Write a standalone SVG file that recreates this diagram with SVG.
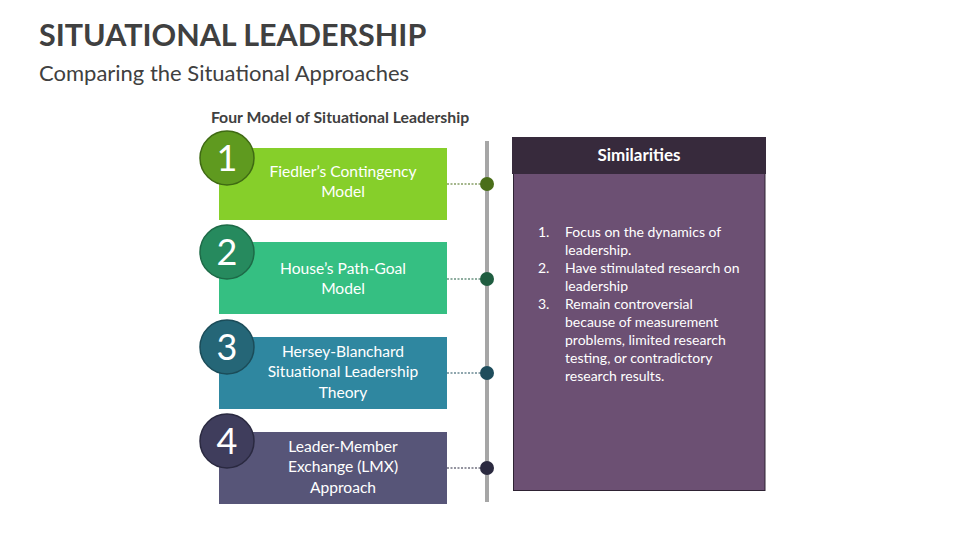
<svg xmlns="http://www.w3.org/2000/svg" width="960" height="540" viewBox="0 0 960 540">
<style>
.t{font-family:Lato,"Open Sans","Liberation Sans",sans-serif}
.title{font-size:30.5px;font-weight:bold;fill:#404040}
.sub{font-size:22px;fill:#404040}
.hd{font-size:15.8px;font-weight:bold;fill:#404040}
.bx{font-size:15.6px;fill:#fff;text-anchor:middle}
.num{font-size:36px;fill:#fff;text-anchor:middle}
.li{font-size:14px;fill:#fff}
.conn{stroke-width:1.2;stroke-dasharray:2 1.5;fill:none}
</style>
<rect width="960" height="540" fill="#fff"/>
<text class="t title" x="39" y="46">SITUATIONAL LEADERSHIP</text>
<text class="t sub" x="39" y="81">Comparing the Situational Approaches</text>
<text class="t hd" x="340" y="123" text-anchor="middle">Four Model of Situational Leadership</text>

<rect x="485" y="141" width="4" height="361" fill="#a6a6a6"/>

<g id="connectors">
<line class="conn" x1="447" y1="184" x2="481" y2="184" stroke="#4a6e19"/>
<line class="conn" x1="447" y1="279" x2="481" y2="279" stroke="#1f5d40"/>
<line class="conn" x1="447" y1="373" x2="481" y2="373" stroke="#1e4d5c"/>
<line class="conn" x1="447" y1="468" x2="481" y2="468" stroke="#2b2a40"/>
<circle cx="487" cy="184" r="7" fill="#4a6e19"/>
<circle cx="487" cy="279" r="7" fill="#1f5d40"/>
<circle cx="487" cy="373" r="7" fill="#1e4d5c"/>
<circle cx="487" cy="468" r="7" fill="#2b2a40"/>
</g>

<g id="node1">
<rect x="219" y="148" width="228" height="72" fill="#86cf2a"/>
<circle cx="227" cy="158" r="27" fill="#5f9a1f" stroke="#3f6a13" stroke-width="1.5"/>
<text class="t num" x="227" y="171">1</text>
<text class="t bx" x="343" y="177">Fiedler’s Contingency</text>
<text class="t bx" x="343" y="197">Model</text>
</g>

<g id="node2">
<rect x="219" y="242" width="228" height="72" fill="#35bf82"/>
<circle cx="227" cy="252" r="27" fill="#268a5e" stroke="#1d6a47" stroke-width="1.5"/>
<text class="t num" x="227" y="265">2</text>
<text class="t bx" x="343" y="274">House’s Path-Goal</text>
<text class="t bx" x="343" y="294">Model</text>
</g>

<g id="node3">
<rect x="219" y="337" width="228" height="72" fill="#2f87a0"/>
<circle cx="227" cy="347" r="27" fill="#256677" stroke="#1b4c59" stroke-width="1.5"/>
<text class="t num" x="227" y="360">3</text>
<text class="t bx" x="343" y="357">Hersey-Blanchard</text>
<text class="t bx" x="343" y="377">Situational Leadership</text>
<text class="t bx" x="343" y="398">Theory</text>
</g>

<g id="node4">
<rect x="219" y="432" width="228" height="72" fill="#575578"/>
<circle cx="227" cy="441" r="27" fill="#3f3d5c" stroke="#2a2940" stroke-width="1.5"/>
<text class="t num" x="227" y="454">4</text>
<text class="t bx" x="343" y="452">Leader-Member</text>
<text class="t bx" x="343" y="472">Exchange (LMX)</text>
<text class="t bx" x="343" y="493">Approach</text>
</g>

<g id="similarities">
<rect x="513.5" y="173.5" width="251.5" height="317" fill="#6c5073" stroke="#2e2233" stroke-width="1"/>
<rect x="512" y="137" width="254" height="37" fill="#372a3c"/>
<text class="t" x="639" y="161" text-anchor="middle" font-size="17" font-weight="bold" fill="#fff">Similarities</text>
<g class="t li">
<text x="538" y="237">1.</text><text x="565" y="237">Focus on the dynamics of</text>
<text x="565" y="255">leadership.</text>
<text x="538" y="273">2.</text><text x="565" y="273">Have stimulated research on</text>
<text x="565" y="291">leadership</text>
<text x="538" y="309">3.</text><text x="565" y="309">Remain controversial</text>
<text x="565" y="327">because of measurement</text>
<text x="565" y="345">problems, limited research</text>
<text x="565" y="363">testing, or contradictory</text>
<text x="565" y="381">research results.</text>
</g>
</g>
</svg>
